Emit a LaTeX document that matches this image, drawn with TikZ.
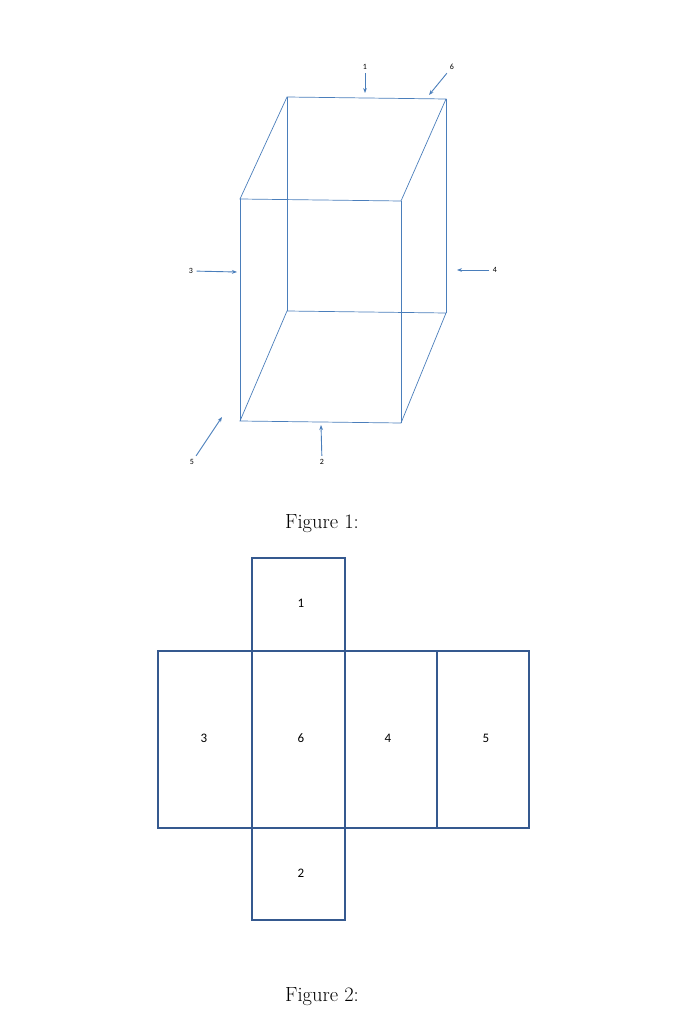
\documentclass[tikz,border=0pt]{standalone}
\usepackage{fontspec}
\newfontfamily\labelfont{Carlito}
\usetikzlibrary{arrows.meta}
\definecolor{edgeblue}{HTML}{4A7EBB}
\definecolor{netblue}{HTML}{35598F}

\begin{document}
\begin{tikzpicture}[x=1pt,y=-1pt,>={Stealth[length=5pt]},
  edge/.style={edgeblue,line width=0.7pt},
  pointer/.style={->,edgeblue,line width=0.9pt},
  face/.style={draw=netblue,line width=2.6pt},
  tag/.style={font=\labelfont\fontsize{8}{9}\selectfont},
  facetag/.style={font=\labelfont\fontsize{13}{15}\selectfont},
  caption/.style={font=\fontsize{20.5}{24}\selectfont}]
  \useasboundingbox (0,0) rectangle (689,1024);
  % cube corners
  \coordinate (btl) at (287,97);  \coordinate (btr) at (446,99);
  \coordinate (ftl) at (240,199); \coordinate (ftr) at (401,201);
  \coordinate (bbl) at (287,311); \coordinate (bbr) at (446,313);
  \coordinate (fbl) at (240,421); \coordinate (fbr) at (401,423);
  \draw[edge] (btl) -- (btr) -- (ftr) -- (ftl) -- cycle;
  \draw[edge] (bbl) -- (bbr) -- (fbr) -- (fbl) -- cycle;
  \draw[edge] (btl) -- (bbl) (btr) -- (bbr) (ftl) -- (fbl) (ftr) -- (fbr);
  % face pointers
  \node[tag] (t1) at (365,67) {1};
  \node[tag] (t6) at (452,67) {6};
  \node[tag] (t3) at (191,271) {3};
  \node[tag] (t4) at (495,270) {4};
  \node[tag] (t5) at (192,462) {5};
  \node[tag] (t2) at (322,462) {2};
  \coordinate (p1) at (365,93);  \coordinate (p6) at (429,95);
  \coordinate (p3) at (237,272); \coordinate (p4) at (457,270);
  \coordinate (p5) at (222,417); \coordinate (p2) at (321,425);
  \draw[pointer] (t1) -- (p1);
  \draw[pointer] (t6) -- (p6);
  \draw[pointer] (t3) -- (p3);
  \draw[pointer] (t4) -- (p4);
  \draw[pointer] (t5) -- (p5);
  \draw[pointer] (t2) -- (p2);
  \node[caption] (cap1) at (322,524) {Figure 1:};
  % net
  \draw[face] (252,558) rectangle (345,651);
  \draw[face] (158,651) rectangle (252,828);
  \draw[face] (252,651) rectangle (345,828);
  \draw[face] (345,651) rectangle (437,828);
  \draw[face] (437,651) rectangle (529,828);
  \draw[face] (252,828) rectangle (345,920);
  \node[facetag] (f1) at (301,603) {1};
  \node[facetag] (f3) at (204,738) {3};
  \node[facetag] (f6) at (301,738) {6};
  \node[facetag] (f4) at (388,738) {4};
  \node[facetag] (f5) at (486,738) {5};
  \node[facetag] (f2) at (301,873) {2};
  \node[caption] (cap2) at (322,997) {Figure 2:};
\end{tikzpicture}
\end{document}
